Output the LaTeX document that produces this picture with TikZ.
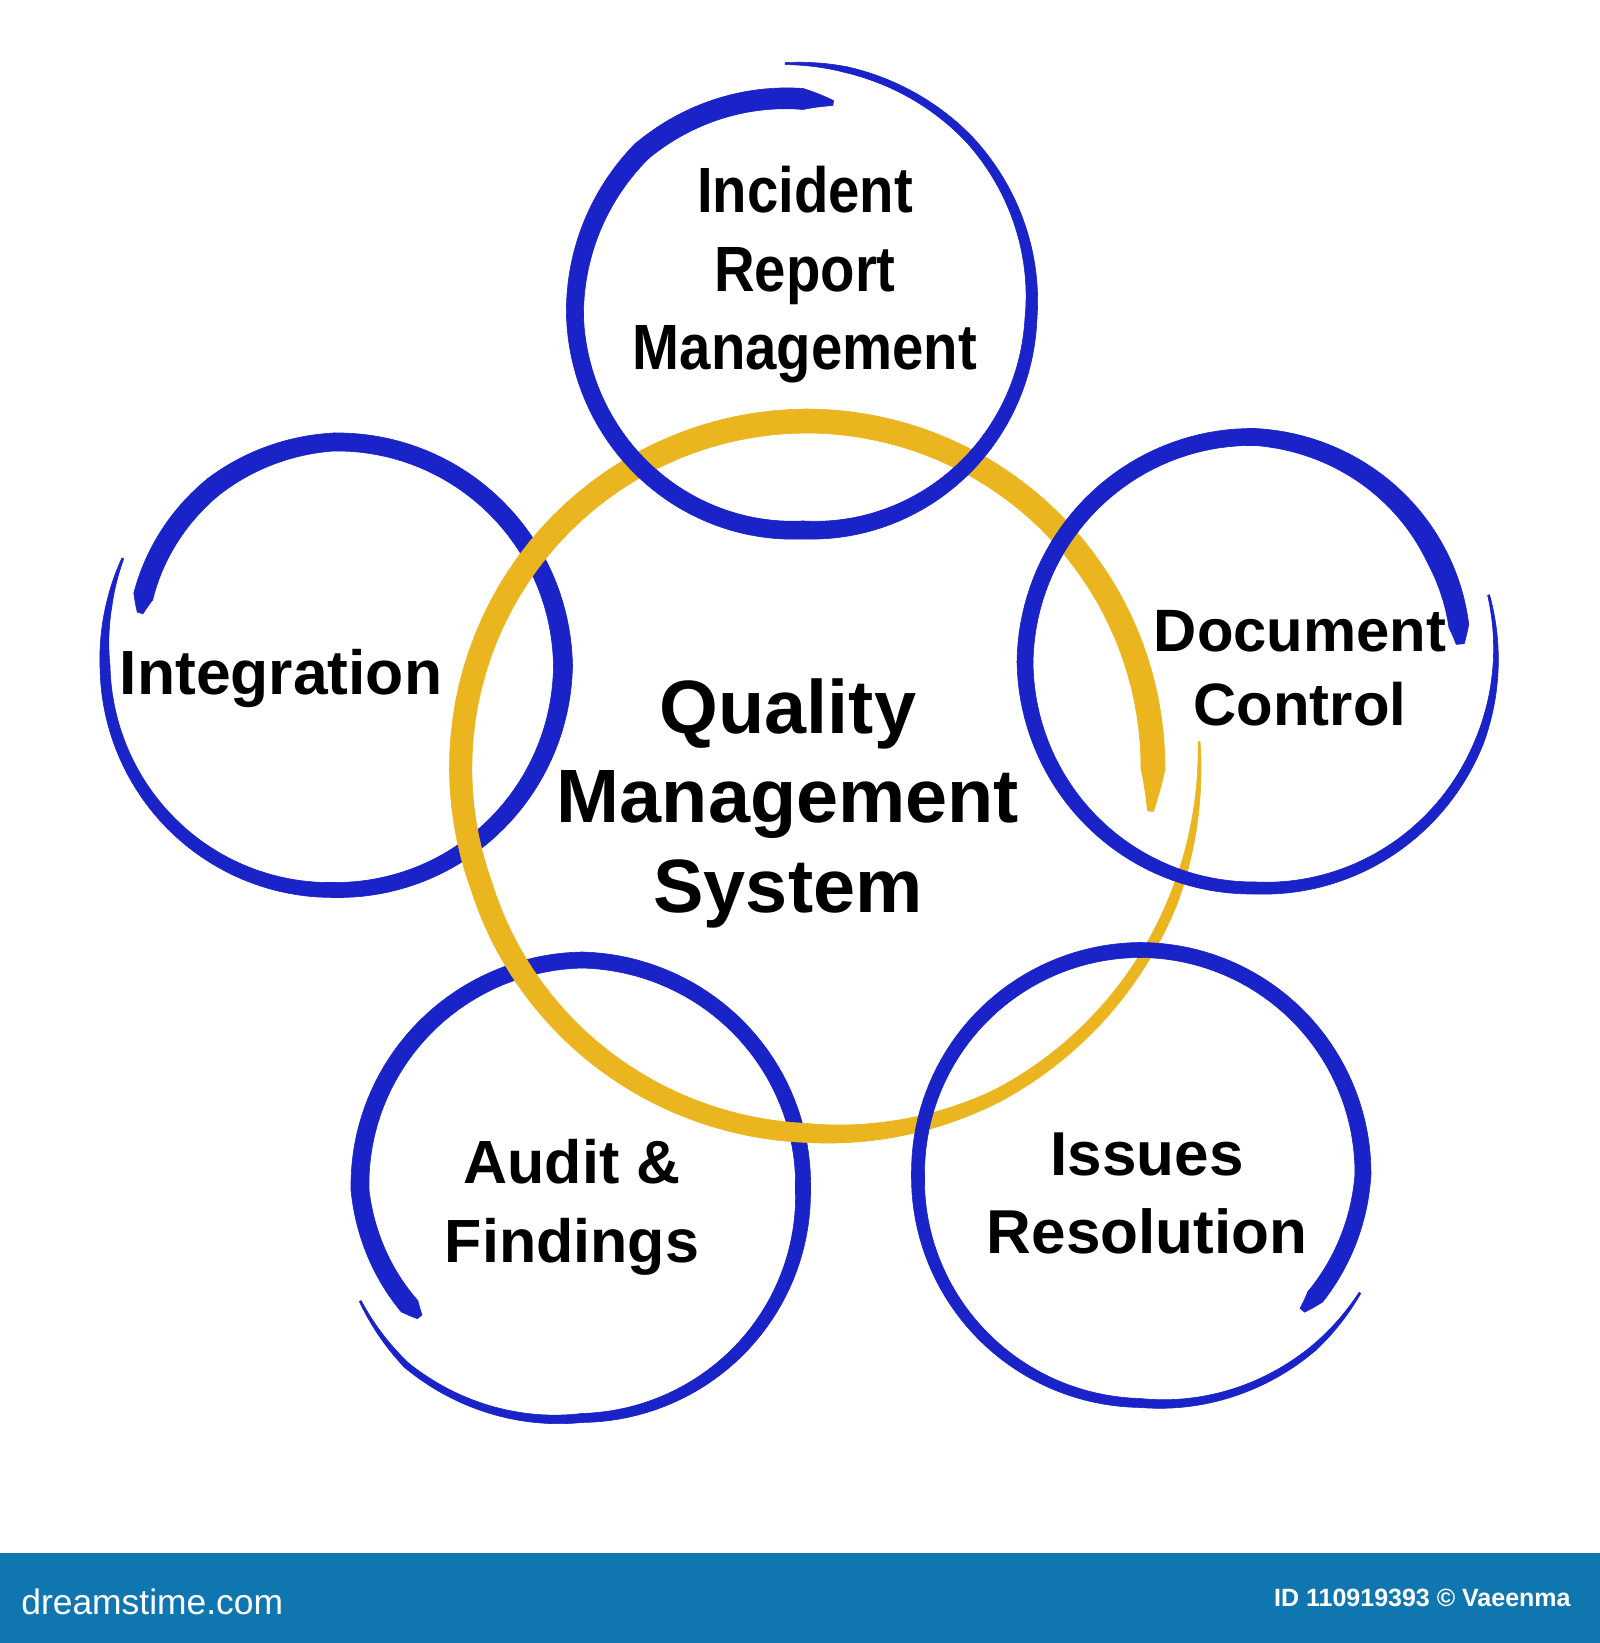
\documentclass[tikz,border=0pt]{standalone}
\usepackage{fontspec}
\usepackage{tikz}
\setmainfont{Liberation Sans}
\newfontfamily\narrowsans[FakeStretch=0.88]{Liberation Sans}
\definecolor{ringblue}{HTML}{1923C8}
\definecolor{hubyellow}{HTML}{EBB520}
\definecolor{barblue}{HTML}{1076B0}
\newcommand{\hubfont}{\fontsize{37.8}{44.75}\selectfont}
\newcommand{\topfont}{\fontsize{32}{39.25}\selectfont}
\newcommand{\ringfont}{\fontsize{31}{39}\selectfont}
% one tapered brush stroke: centre x, centre y, from, to, radius from, radius to, width from, width to, colour
\newcommand{\brush}[9]{%
  \filldraw[#9,line width=0.3pt]
    plot[domain=#3:#4,samples=40,variable=\t]
      ({#1+(#5+(#6-#5)/(#4-#3)*(\t-#3)+(#7+(#8-#7)/(#4-#3)*(\t-#3))/2)*cos(\t)},
       {#2+(#5+(#6-#5)/(#4-#3)*(\t-#3)+(#7+(#8-#7)/(#4-#3)*(\t-#3))/2)*sin(\t)})
    -- plot[domain=#4:#3,samples=40,variable=\t]
      ({#1+(#5+(#6-#5)/(#4-#3)*(\t-#3)-(#7+(#8-#7)/(#4-#3)*(\t-#3))/2)*cos(\t)},
       {#2+(#5+(#6-#5)/(#4-#3)*(\t-#3)-(#7+(#8-#7)/(#4-#3)*(\t-#3))/2)*sin(\t)})
    -- cycle;}

\begin{document}
\begin{tikzpicture}[x=0.5pt,y=0.5pt]
  \path[use as bounding box] (0,0) rectangle (1600,1643);
  \tikzset{
    hub/.style={inner sep=0pt,align=center,font=\bfseries\hubfont},
    toplabel/.style={inner sep=0pt,align=center,font=\narrowsans\bfseries\topfont},
    ringlabel/.style={inner sep=0pt,align=center,font=\bfseries\ringfont},
    bartext/.style={inner sep=0pt,text=white}
  }
  % left ring (Integration)
  \brush{334}{977}{164.7}{160}{201}{203}{6}{20}{ringblue}
  \brush{334}{977}{160}{124}{203}{216}{20}{20}{ringblue}
  \brush{334}{977}{124}{90}{216}{224}{20}{18}{ringblue}
  \brush{334}{977}{90}{0}{224}{229}{18}{19}{ringblue}
  \brush{334}{977}{0}{-90}{229}{224}{19}{15}{ringblue}
  \brush{334}{977}{-90}{-180}{224}{229}{15}{10}{ringblue}
  \brush{334}{977}{-180}{-195}{229}{233}{10}{6}{ringblue}
  \brush{334}{977}{-195}{-207}{233}{237}{6}{2}{ringblue}
  % bottom left ring (Audit)
  \brush{582}{453}{218}{214}{206}{208}{6}{20}{ringblue}
  \brush{582}{453}{214}{180}{208}{222}{20}{18}{ringblue}
  \brush{582}{453}{180}{90}{222}{230}{18}{16}{ringblue}
  \brush{582}{453}{90}{0}{230}{221}{16}{15}{ringblue}
  \brush{582}{453}{0}{-90}{221}{228}{15}{9}{ringblue}
  \brush{582}{453}{-90}{-135}{228}{248}{9}{6}{ringblue}
  \brush{582}{453}{-135}{-153.4}{248}{248}{6}{2}{ringblue}
  % yellow hub ring
  \brush{807}{874}{-7}{0}{346}{346}{6}{24}{hubyellow}
  \brush{807}{874}{0}{90}{346}{348}{24}{24}{hubyellow}
  \brush{807}{874}{90}{200}{348}{346}{24}{22}{hubyellow}
  \brush{807}{874}{200}{270}{346}{364}{22}{19}{hubyellow}
  \brush{807}{874}{270}{300}{364}{378}{19}{13}{hubyellow}
  \brush{807}{874}{300}{340}{378}{389}{13}{10}{hubyellow}
  \brush{807}{874}{340}{364}{389}{393}{10}{2}{hubyellow}
  % top ring (Incident)
  \brush{803}{1325}{82}{90}{217}{219}{5}{21}{ringblue}
  \brush{803}{1325}{90}{134}{219}{232}{21}{20}{ringblue}
  \brush{803}{1325}{134}{180}{232}{228}{20}{17}{ringblue}
  \brush{803}{1325}{180}{270}{228}{212}{17}{18}{ringblue}
  \brush{803}{1325}{270}{360}{212}{228}{18}{12}{ringblue}
  \brush{803}{1325}{360}{407}{228}{244}{12}{8}{ringblue}
  \brush{803}{1325}{407}{440}{244}{252}{8}{6}{ringblue}
  \brush{803}{1325}{440}{454}{252}{255}{6}{2}{ringblue}
  % right ring (Document)
  \brush{1255}{981}{5}{10}{206}{207}{8}{20}{ringblue}
  \brush{1255}{981}{10}{30}{207}{210}{20}{22}{ringblue}
  \brush{1255}{981}{30}{90}{210}{225}{22}{17}{ringblue}
  \brush{1255}{981}{90}{180}{225}{230}{17}{16}{ringblue}
  \brush{1255}{981}{180}{270}{230}{226}{16}{12}{ringblue}
  \brush{1255}{981}{270}{340}{226}{238}{12}{9}{ringblue}
  \brush{1255}{981}{340}{376}{238}{243}{9}{2}{ringblue}
  % bottom right ring (Issues)
  \brush{1140}{469}{-40}{-35}{212}{214}{6}{18}{ringblue}
  \brush{1140}{469}{-35}{0}{214}{223}{18}{16}{ringblue}
  \brush{1140}{469}{0}{90}{223}{224}{16}{15}{ringblue}
  \brush{1140}{469}{90}{180}{224}{222}{15}{13}{ringblue}
  \brush{1140}{469}{180}{270}{222}{229}{13}{9}{ringblue}
  \brush{1140}{469}{270}{315}{229}{246}{9}{6}{ringblue}
  \brush{1140}{469}{315}{331.6}{246}{250}{6}{2}{ringblue}

  \node[hub] (qms) at (788,840) {Quality\\Management\\System};
  \node[toplabel] (incident) at (805,1368) {Incident\\Report\\Management};
  \node[ringlabel,font=\bfseries\fontsize{29.9}{37}\selectfont] (document) at (1300,975) {Document\\Control};
  \node[ringlabel,font=\bfseries\fontsize{31.2}{39}\selectfont] (integration) at (281,964) {Integration};
  \node[ringlabel,font=\bfseries\fontsize{30.5}{39.5}\selectfont] (audit) at (572,436) {Audit \&\\Findings};
  \node[ringlabel] (issues) at (1147,450) {Issues\\Resolution};

  % credit bar
  \fill[barblue] (0,0) rectangle (1600,90);
  \node[bartext,anchor=base west,font=\fontsize{17.7}{20}\selectfont] (site) at (21,28) {dreamstime.com};
  \node[bartext,anchor=base east,font=\bfseries\fontsize{12.5}{15}\selectfont] (credit) at (1571,36) {ID 110919393 © Vaeenma};
\end{tikzpicture}
\end{document}
